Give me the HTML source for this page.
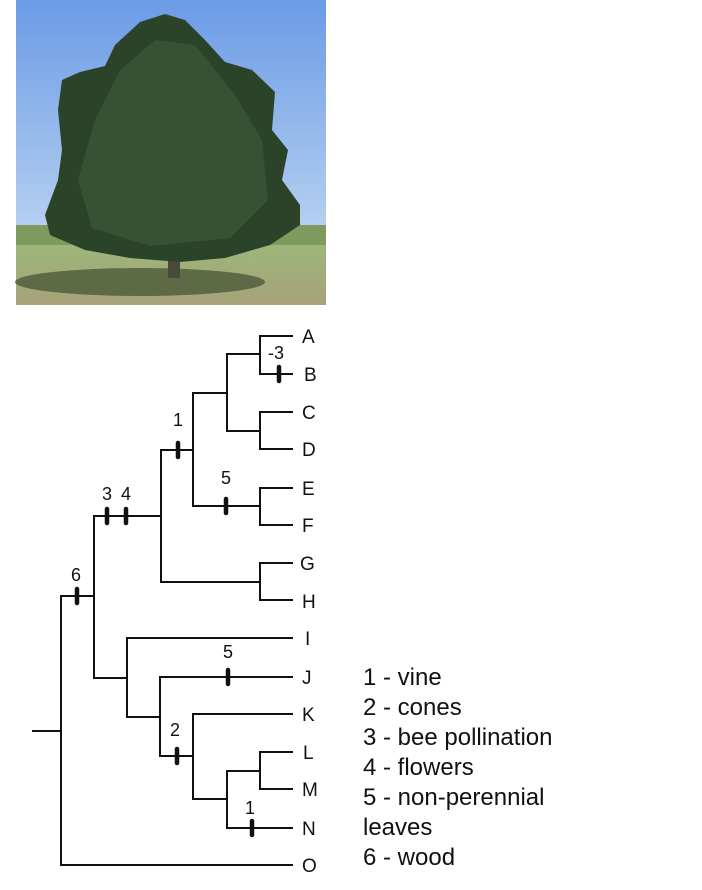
<!DOCTYPE html>
<html><head><meta charset="utf-8"><style>
html,body{margin:0;padding:0;background:#fff;width:702px;height:890px;overflow:hidden}
svg{display:block}
text{font-family:"Liberation Sans",Arial,sans-serif;fill:#111}
</style></head><body>
<svg width="702" height="890" viewBox="0 0 702 890" xmlns="http://www.w3.org/2000/svg">
<defs>
<linearGradient id="sky" x1="0" y1="0" x2="0" y2="1">
<stop offset="0" stop-color="#6b9be6"/><stop offset="0.75" stop-color="#b5cff0"/><stop offset="1" stop-color="#d4e2f2"/>
</linearGradient>
<linearGradient id="grass" x1="0" y1="0" x2="0" y2="1">
<stop offset="0" stop-color="#9db67a"/><stop offset="1" stop-color="#a7a27a"/>
</linearGradient>
</defs>
<rect x="16" y="0" width="310" height="305" fill="url(#sky)"/>
<rect x="16" y="225" width="310" height="22" fill="#7e9a5c"/>
<rect x="16" y="245" width="310" height="60" fill="url(#grass)"/>
<ellipse cx="140" cy="282" rx="125" ry="14" fill="#4c5a3a" opacity="0.8"/>
<rect x="168" y="240" width="12" height="38" fill="#4a4a3a"/>
<path d="M165,14 L185,20 L205,40 L225,62 L252,70 L275,92 L272,130 L288,150 L282,180 L300,205 L300,225 L270,245 L225,258 L180,262 L130,258 L85,250 L50,235 L45,215 L58,180 L62,150 L58,110 L62,80 L80,72 L105,66 L115,45 L140,22 Z" fill="#2b4429"/>
<path d="M155,40 L195,45 L235,95 L262,140 L268,200 L230,238 L150,246 L92,228 L78,180 L95,120 L120,70 Z" fill="#3b5837" opacity="0.7"/>
<g stroke="#111" stroke-width="2" fill="none">
<path d="M260,336 H293 M260,374 H293 M260,335 V375 M227,354 H260"/>
<path d="M260,412 H293 M260,449 H293 M260,411 V450 M227,431 H260"/>
<path d="M227,353 V432 M193,393 H227"/>
<path d="M260,488 H293 M260,525 H293 M260,487 V526 M193,506 H260"/>
<path d="M193,392 V507 M161,450 H193"/>
<path d="M260,563 H293 M260,600 H293 M260,562 V601 M161,582 H260"/>
<path d="M161,449 V583 M94,516 H161"/>
<path d="M94,515 V679 M94,678 H127"/>
<path d="M127,638 H293 M127,637 V718 M127,717 H160"/>
<path d="M160,677 H293 M160,676 V757 M160,756 H193"/>
<path d="M193,714 H293 M193,713 V800 M193,799 H227"/>
<path d="M260,752 H293 M260,789 H293 M260,751 V790 M227,771 H260"/>
<path d="M227,770 V829 M227,828 H293"/>
<path d="M61,596 H94 M61,595 V866 M61,865 H293 M32,731 H61"/>
</g>
<g stroke="#111" stroke-width="4.5" stroke-linecap="round">
<path d="M178,443 V457 M107,509 V523 M126,509 V523 M226,499 V513 M279,367 V381 M77,589 V603 M228,670 V684 M177,749 V763 M252,821 V835"/>
</g>
<g font-size="18" text-anchor="middle">
<text x="178" y="426">1</text>
<text x="107" y="500">3</text>
<text x="126" y="500">4</text>
<text x="226" y="484">5</text>
<text x="276" y="359">-3</text>
<text x="76" y="581">6</text>
<text x="228" y="658">5</text>
<text x="175" y="736">2</text>
<text x="250" y="814">1</text>
</g>
<g font-size="19">
<text x="302" y="343">A</text><text x="304" y="381">B</text>
<text x="302" y="419">C</text><text x="302" y="456">D</text>
<text x="302" y="495">E</text><text x="302" y="532">F</text>
<text x="300" y="570">G</text><text x="302" y="608">H</text>
<text x="305" y="645">I</text><text x="302" y="684">J</text>
<text x="302" y="721">K</text><text x="303" y="759">L</text>
<text x="302" y="796">M</text><text x="302" y="835">N</text>
<text x="302" y="872">O</text>
</g>
<g font-size="24">
<text x="363" y="685">1 - vine</text>
<text x="363" y="715">2 - cones</text>
<text x="363" y="745">3 - bee pollination</text>
<text x="363" y="775">4 - flowers</text>
<text x="363" y="805">5 - non-perennial</text>
<text x="363" y="835">leaves</text>
<text x="363" y="865">6 - wood</text>
</g>
</svg>
</body></html>
